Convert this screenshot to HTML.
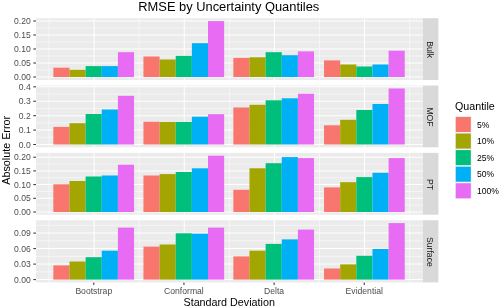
<!DOCTYPE html>
<html><head><meta charset="utf-8"><title>RMSE by Uncertainty Quantiles</title>
<style>html,body{margin:0;padding:0;background:#fff;overflow:hidden}svg{display:block}text{font-family:"Liberation Sans",Arial,Helvetica,sans-serif}</style></head><body>
<svg width="500" height="308" viewBox="0 0 500 308">
<rect width="500" height="308" fill="#fff"/>
<text x="228.8" y="10.5" font-size="12.88" text-anchor="middle" fill="#000">RMSE by Uncertainty Quantiles</text>
<g>
<rect x="36.0" y="18.2" width="386.90" height="61.80" fill="#ebebeb"/>
<line x1="36.0" x2="422.9" y1="70.00" y2="70.00" stroke="#fff" stroke-width="0.52"/>
<line x1="36.0" x2="422.9" y1="56.00" y2="56.00" stroke="#fff" stroke-width="0.52"/>
<line x1="36.0" x2="422.9" y1="42.00" y2="42.00" stroke="#fff" stroke-width="0.52"/>
<line x1="36.0" x2="422.9" y1="28.00" y2="28.00" stroke="#fff" stroke-width="0.52"/>
<line x1="49.02" x2="49.02" y1="18.2" y2="80.0" stroke="#fff" stroke-width="0.52"/>
<line x1="139.18" x2="139.18" y1="18.2" y2="80.0" stroke="#fff" stroke-width="0.52"/>
<line x1="229.33" x2="229.33" y1="18.2" y2="80.0" stroke="#fff" stroke-width="0.52"/>
<line x1="319.48" x2="319.48" y1="18.2" y2="80.0" stroke="#fff" stroke-width="0.52"/>
<line x1="409.63" x2="409.63" y1="18.2" y2="80.0" stroke="#fff" stroke-width="0.52"/>
<line x1="36.0" x2="422.9" y1="77.00" y2="77.00" stroke="#fff" stroke-width="1.03"/>
<line x1="36.0" x2="422.9" y1="63.00" y2="63.00" stroke="#fff" stroke-width="1.03"/>
<line x1="36.0" x2="422.9" y1="49.00" y2="49.00" stroke="#fff" stroke-width="1.03"/>
<line x1="36.0" x2="422.9" y1="35.00" y2="35.00" stroke="#fff" stroke-width="1.03"/>
<line x1="36.0" x2="422.9" y1="21.00" y2="21.00" stroke="#fff" stroke-width="1.03"/>
<line x1="94.10" x2="94.10" y1="18.2" y2="80.0" stroke="#fff" stroke-width="1.03"/>
<line x1="184.25" x2="184.25" y1="18.2" y2="80.0" stroke="#fff" stroke-width="1.03"/>
<line x1="274.40" x2="274.40" y1="18.2" y2="80.0" stroke="#fff" stroke-width="1.03"/>
<line x1="364.55" x2="364.55" y1="18.2" y2="80.0" stroke="#fff" stroke-width="1.03"/>
<rect x="53.35" y="67.70" width="16.14" height="9.30" fill="#F8766D"/>
<rect x="69.49" y="69.80" width="16.14" height="7.20" fill="#A3A500"/>
<rect x="85.63" y="66.10" width="16.14" height="10.90" fill="#00BF7D"/>
<rect x="101.77" y="66.10" width="16.14" height="10.90" fill="#00B0F6"/>
<rect x="117.91" y="52.20" width="16.14" height="24.80" fill="#E76BF3"/>
<rect x="143.45" y="56.50" width="16.14" height="20.50" fill="#F8766D"/>
<rect x="159.59" y="59.50" width="16.14" height="17.50" fill="#A3A500"/>
<rect x="175.73" y="55.90" width="16.14" height="21.10" fill="#00BF7D"/>
<rect x="191.87" y="43.20" width="16.14" height="33.80" fill="#00B0F6"/>
<rect x="208.01" y="21.10" width="16.14" height="55.90" fill="#E76BF3"/>
<rect x="233.35" y="57.90" width="16.14" height="19.10" fill="#F8766D"/>
<rect x="249.49" y="57.30" width="16.14" height="19.70" fill="#A3A500"/>
<rect x="265.63" y="52.20" width="16.14" height="24.80" fill="#00BF7D"/>
<rect x="281.77" y="55.20" width="16.14" height="21.80" fill="#00B0F6"/>
<rect x="297.91" y="51.40" width="16.14" height="25.60" fill="#E76BF3"/>
<rect x="324.05" y="60.40" width="16.14" height="16.60" fill="#F8766D"/>
<rect x="340.19" y="64.50" width="16.14" height="12.50" fill="#A3A500"/>
<rect x="356.33" y="66.50" width="16.14" height="10.50" fill="#00BF7D"/>
<rect x="372.47" y="64.50" width="16.14" height="12.50" fill="#00B0F6"/>
<rect x="388.61" y="50.70" width="16.14" height="26.30" fill="#E76BF3"/>
<line x1="33.30" x2="36.0" y1="77.00" y2="77.00" stroke="#333" stroke-width="1.03"/>
<text x="30.8" y="80.05" font-size="8.6" text-anchor="end" fill="#4d4d4d">0.00</text>
<line x1="33.30" x2="36.0" y1="63.00" y2="63.00" stroke="#333" stroke-width="1.03"/>
<text x="30.8" y="66.05" font-size="8.6" text-anchor="end" fill="#4d4d4d">0.05</text>
<line x1="33.30" x2="36.0" y1="49.00" y2="49.00" stroke="#333" stroke-width="1.03"/>
<text x="30.8" y="52.05" font-size="8.6" text-anchor="end" fill="#4d4d4d">0.10</text>
<line x1="33.30" x2="36.0" y1="35.00" y2="35.00" stroke="#333" stroke-width="1.03"/>
<text x="30.8" y="38.05" font-size="8.6" text-anchor="end" fill="#4d4d4d">0.15</text>
<line x1="33.30" x2="36.0" y1="21.00" y2="21.00" stroke="#333" stroke-width="1.03"/>
<text x="30.8" y="24.05" font-size="8.6" text-anchor="end" fill="#4d4d4d">0.20</text>
<rect x="422.9" y="18.2" width="15.5" height="61.80" fill="#d9d9d9"/>
<text transform="translate(427.2,49.70) rotate(90)" font-size="8.6" text-anchor="middle" fill="#1a1a1a">Bulk</text>
</g>
<g>
<rect x="36.0" y="85.5" width="386.90" height="61.80" fill="#ebebeb"/>
<line x1="36.0" x2="422.9" y1="137.29" y2="137.29" stroke="#fff" stroke-width="0.52"/>
<line x1="36.0" x2="422.9" y1="122.87" y2="122.87" stroke="#fff" stroke-width="0.52"/>
<line x1="36.0" x2="422.9" y1="108.45" y2="108.45" stroke="#fff" stroke-width="0.52"/>
<line x1="36.0" x2="422.9" y1="94.03" y2="94.03" stroke="#fff" stroke-width="0.52"/>
<line x1="49.02" x2="49.02" y1="85.5" y2="147.3" stroke="#fff" stroke-width="0.52"/>
<line x1="139.18" x2="139.18" y1="85.5" y2="147.3" stroke="#fff" stroke-width="0.52"/>
<line x1="229.33" x2="229.33" y1="85.5" y2="147.3" stroke="#fff" stroke-width="0.52"/>
<line x1="319.48" x2="319.48" y1="85.5" y2="147.3" stroke="#fff" stroke-width="0.52"/>
<line x1="409.63" x2="409.63" y1="85.5" y2="147.3" stroke="#fff" stroke-width="0.52"/>
<line x1="36.0" x2="422.9" y1="144.50" y2="144.50" stroke="#fff" stroke-width="1.03"/>
<line x1="36.0" x2="422.9" y1="130.08" y2="130.08" stroke="#fff" stroke-width="1.03"/>
<line x1="36.0" x2="422.9" y1="115.66" y2="115.66" stroke="#fff" stroke-width="1.03"/>
<line x1="36.0" x2="422.9" y1="101.24" y2="101.24" stroke="#fff" stroke-width="1.03"/>
<line x1="36.0" x2="422.9" y1="86.82" y2="86.82" stroke="#fff" stroke-width="1.03"/>
<line x1="94.10" x2="94.10" y1="85.5" y2="147.3" stroke="#fff" stroke-width="1.03"/>
<line x1="184.25" x2="184.25" y1="85.5" y2="147.3" stroke="#fff" stroke-width="1.03"/>
<line x1="274.40" x2="274.40" y1="85.5" y2="147.3" stroke="#fff" stroke-width="1.03"/>
<line x1="364.55" x2="364.55" y1="85.5" y2="147.3" stroke="#fff" stroke-width="1.03"/>
<rect x="53.35" y="126.90" width="16.14" height="17.60" fill="#F8766D"/>
<rect x="69.49" y="123.20" width="16.14" height="21.30" fill="#A3A500"/>
<rect x="85.63" y="114.00" width="16.14" height="30.50" fill="#00BF7D"/>
<rect x="101.77" y="109.50" width="16.14" height="35.00" fill="#00B0F6"/>
<rect x="117.91" y="95.80" width="16.14" height="48.70" fill="#E76BF3"/>
<rect x="143.45" y="121.80" width="16.14" height="22.70" fill="#F8766D"/>
<rect x="159.59" y="122.00" width="16.14" height="22.50" fill="#A3A500"/>
<rect x="175.73" y="122.00" width="16.14" height="22.50" fill="#00BF7D"/>
<rect x="191.87" y="116.70" width="16.14" height="27.80" fill="#00B0F6"/>
<rect x="208.01" y="114.20" width="16.14" height="30.30" fill="#E76BF3"/>
<rect x="233.35" y="107.50" width="16.14" height="37.00" fill="#F8766D"/>
<rect x="249.49" y="104.80" width="16.14" height="39.70" fill="#A3A500"/>
<rect x="265.63" y="100.30" width="16.14" height="44.20" fill="#00BF7D"/>
<rect x="281.77" y="98.30" width="16.14" height="46.20" fill="#00B0F6"/>
<rect x="297.91" y="93.80" width="16.14" height="50.70" fill="#E76BF3"/>
<rect x="324.05" y="125.30" width="16.14" height="19.20" fill="#F8766D"/>
<rect x="340.19" y="119.80" width="16.14" height="24.70" fill="#A3A500"/>
<rect x="356.33" y="110.00" width="16.14" height="34.50" fill="#00BF7D"/>
<rect x="372.47" y="104.00" width="16.14" height="40.50" fill="#00B0F6"/>
<rect x="388.61" y="88.50" width="16.14" height="56.00" fill="#E76BF3"/>
<line x1="33.30" x2="36.0" y1="144.50" y2="144.50" stroke="#333" stroke-width="1.03"/>
<text x="30.8" y="147.55" font-size="8.6" text-anchor="end" fill="#4d4d4d">0.0</text>
<line x1="33.30" x2="36.0" y1="130.08" y2="130.08" stroke="#333" stroke-width="1.03"/>
<text x="30.8" y="133.13" font-size="8.6" text-anchor="end" fill="#4d4d4d">0.1</text>
<line x1="33.30" x2="36.0" y1="115.66" y2="115.66" stroke="#333" stroke-width="1.03"/>
<text x="30.8" y="118.71" font-size="8.6" text-anchor="end" fill="#4d4d4d">0.2</text>
<line x1="33.30" x2="36.0" y1="101.24" y2="101.24" stroke="#333" stroke-width="1.03"/>
<text x="30.8" y="104.29" font-size="8.6" text-anchor="end" fill="#4d4d4d">0.3</text>
<line x1="33.30" x2="36.0" y1="86.82" y2="86.82" stroke="#333" stroke-width="1.03"/>
<text x="30.8" y="89.87" font-size="8.6" text-anchor="end" fill="#4d4d4d">0.4</text>
<rect x="422.9" y="85.5" width="15.5" height="61.80" fill="#d9d9d9"/>
<text transform="translate(427.2,117.00) rotate(90)" font-size="8.6" text-anchor="middle" fill="#1a1a1a">MOF</text>
</g>
<g>
<rect x="36.0" y="152.9" width="386.90" height="61.80" fill="#ebebeb"/>
<line x1="36.0" x2="422.9" y1="205.15" y2="205.15" stroke="#fff" stroke-width="0.52"/>
<line x1="36.0" x2="422.9" y1="191.45" y2="191.45" stroke="#fff" stroke-width="0.52"/>
<line x1="36.0" x2="422.9" y1="177.75" y2="177.75" stroke="#fff" stroke-width="0.52"/>
<line x1="36.0" x2="422.9" y1="164.05" y2="164.05" stroke="#fff" stroke-width="0.52"/>
<line x1="49.02" x2="49.02" y1="152.9" y2="214.7" stroke="#fff" stroke-width="0.52"/>
<line x1="139.18" x2="139.18" y1="152.9" y2="214.7" stroke="#fff" stroke-width="0.52"/>
<line x1="229.33" x2="229.33" y1="152.9" y2="214.7" stroke="#fff" stroke-width="0.52"/>
<line x1="319.48" x2="319.48" y1="152.9" y2="214.7" stroke="#fff" stroke-width="0.52"/>
<line x1="409.63" x2="409.63" y1="152.9" y2="214.7" stroke="#fff" stroke-width="0.52"/>
<line x1="36.0" x2="422.9" y1="212.00" y2="212.00" stroke="#fff" stroke-width="1.03"/>
<line x1="36.0" x2="422.9" y1="198.30" y2="198.30" stroke="#fff" stroke-width="1.03"/>
<line x1="36.0" x2="422.9" y1="184.60" y2="184.60" stroke="#fff" stroke-width="1.03"/>
<line x1="36.0" x2="422.9" y1="170.90" y2="170.90" stroke="#fff" stroke-width="1.03"/>
<line x1="36.0" x2="422.9" y1="157.20" y2="157.20" stroke="#fff" stroke-width="1.03"/>
<line x1="94.10" x2="94.10" y1="152.9" y2="214.7" stroke="#fff" stroke-width="1.03"/>
<line x1="184.25" x2="184.25" y1="152.9" y2="214.7" stroke="#fff" stroke-width="1.03"/>
<line x1="274.40" x2="274.40" y1="152.9" y2="214.7" stroke="#fff" stroke-width="1.03"/>
<line x1="364.55" x2="364.55" y1="152.9" y2="214.7" stroke="#fff" stroke-width="1.03"/>
<rect x="53.35" y="184.30" width="16.14" height="27.70" fill="#F8766D"/>
<rect x="69.49" y="181.00" width="16.14" height="31.00" fill="#A3A500"/>
<rect x="85.63" y="176.50" width="16.14" height="35.50" fill="#00BF7D"/>
<rect x="101.77" y="175.50" width="16.14" height="36.50" fill="#00B0F6"/>
<rect x="117.91" y="164.70" width="16.14" height="47.30" fill="#E76BF3"/>
<rect x="143.45" y="175.50" width="16.14" height="36.50" fill="#F8766D"/>
<rect x="159.59" y="174.10" width="16.14" height="37.90" fill="#A3A500"/>
<rect x="175.73" y="172.00" width="16.14" height="40.00" fill="#00BF7D"/>
<rect x="191.87" y="168.30" width="16.14" height="43.70" fill="#00B0F6"/>
<rect x="208.01" y="155.70" width="16.14" height="56.30" fill="#E76BF3"/>
<rect x="233.35" y="189.80" width="16.14" height="22.20" fill="#F8766D"/>
<rect x="249.49" y="168.30" width="16.14" height="43.70" fill="#A3A500"/>
<rect x="265.63" y="163.20" width="16.14" height="48.80" fill="#00BF7D"/>
<rect x="281.77" y="157.10" width="16.14" height="54.90" fill="#00B0F6"/>
<rect x="297.91" y="158.10" width="16.14" height="53.90" fill="#E76BF3"/>
<rect x="324.05" y="187.40" width="16.14" height="24.60" fill="#F8766D"/>
<rect x="340.19" y="182.20" width="16.14" height="29.80" fill="#A3A500"/>
<rect x="356.33" y="177.10" width="16.14" height="34.90" fill="#00BF7D"/>
<rect x="372.47" y="172.80" width="16.14" height="39.20" fill="#00B0F6"/>
<rect x="388.61" y="158.10" width="16.14" height="53.90" fill="#E76BF3"/>
<line x1="33.30" x2="36.0" y1="212.00" y2="212.00" stroke="#333" stroke-width="1.03"/>
<text x="30.8" y="215.05" font-size="8.6" text-anchor="end" fill="#4d4d4d">0.00</text>
<line x1="33.30" x2="36.0" y1="198.30" y2="198.30" stroke="#333" stroke-width="1.03"/>
<text x="30.8" y="201.35" font-size="8.6" text-anchor="end" fill="#4d4d4d">0.05</text>
<line x1="33.30" x2="36.0" y1="184.60" y2="184.60" stroke="#333" stroke-width="1.03"/>
<text x="30.8" y="187.65" font-size="8.6" text-anchor="end" fill="#4d4d4d">0.10</text>
<line x1="33.30" x2="36.0" y1="170.90" y2="170.90" stroke="#333" stroke-width="1.03"/>
<text x="30.8" y="173.95" font-size="8.6" text-anchor="end" fill="#4d4d4d">0.15</text>
<line x1="33.30" x2="36.0" y1="157.20" y2="157.20" stroke="#333" stroke-width="1.03"/>
<text x="30.8" y="160.25" font-size="8.6" text-anchor="end" fill="#4d4d4d">0.20</text>
<rect x="422.9" y="152.9" width="15.5" height="61.80" fill="#d9d9d9"/>
<text transform="translate(427.2,184.40) rotate(90)" font-size="8.6" text-anchor="middle" fill="#1a1a1a">PT</text>
</g>
<g>
<rect x="36.0" y="220.25" width="386.90" height="62.15" fill="#ebebeb"/>
<line x1="36.0" x2="422.9" y1="271.85" y2="271.85" stroke="#fff" stroke-width="0.52"/>
<line x1="36.0" x2="422.9" y1="256.35" y2="256.35" stroke="#fff" stroke-width="0.52"/>
<line x1="36.0" x2="422.9" y1="240.85" y2="240.85" stroke="#fff" stroke-width="0.52"/>
<line x1="36.0" x2="422.9" y1="225.35" y2="225.35" stroke="#fff" stroke-width="0.52"/>
<line x1="49.02" x2="49.02" y1="220.25" y2="282.4" stroke="#fff" stroke-width="0.52"/>
<line x1="139.18" x2="139.18" y1="220.25" y2="282.4" stroke="#fff" stroke-width="0.52"/>
<line x1="229.33" x2="229.33" y1="220.25" y2="282.4" stroke="#fff" stroke-width="0.52"/>
<line x1="319.48" x2="319.48" y1="220.25" y2="282.4" stroke="#fff" stroke-width="0.52"/>
<line x1="409.63" x2="409.63" y1="220.25" y2="282.4" stroke="#fff" stroke-width="0.52"/>
<line x1="36.0" x2="422.9" y1="279.60" y2="279.60" stroke="#fff" stroke-width="1.03"/>
<line x1="36.0" x2="422.9" y1="264.10" y2="264.10" stroke="#fff" stroke-width="1.03"/>
<line x1="36.0" x2="422.9" y1="248.60" y2="248.60" stroke="#fff" stroke-width="1.03"/>
<line x1="36.0" x2="422.9" y1="233.10" y2="233.10" stroke="#fff" stroke-width="1.03"/>
<line x1="94.10" x2="94.10" y1="220.25" y2="282.4" stroke="#fff" stroke-width="1.03"/>
<line x1="184.25" x2="184.25" y1="220.25" y2="282.4" stroke="#fff" stroke-width="1.03"/>
<line x1="274.40" x2="274.40" y1="220.25" y2="282.4" stroke="#fff" stroke-width="1.03"/>
<line x1="364.55" x2="364.55" y1="220.25" y2="282.4" stroke="#fff" stroke-width="1.03"/>
<rect x="53.35" y="265.40" width="16.14" height="14.20" fill="#F8766D"/>
<rect x="69.49" y="261.50" width="16.14" height="18.10" fill="#A3A500"/>
<rect x="85.63" y="257.20" width="16.14" height="22.40" fill="#00BF7D"/>
<rect x="101.77" y="250.70" width="16.14" height="28.90" fill="#00B0F6"/>
<rect x="117.91" y="227.60" width="16.14" height="52.00" fill="#E76BF3"/>
<rect x="143.45" y="246.60" width="16.14" height="33.00" fill="#F8766D"/>
<rect x="159.59" y="244.50" width="16.14" height="35.10" fill="#A3A500"/>
<rect x="175.73" y="233.30" width="16.14" height="46.30" fill="#00BF7D"/>
<rect x="191.87" y="233.70" width="16.14" height="45.90" fill="#00B0F6"/>
<rect x="208.01" y="227.60" width="16.14" height="52.00" fill="#E76BF3"/>
<rect x="233.35" y="256.40" width="16.14" height="23.20" fill="#F8766D"/>
<rect x="249.49" y="250.70" width="16.14" height="28.90" fill="#A3A500"/>
<rect x="265.63" y="243.90" width="16.14" height="35.70" fill="#00BF7D"/>
<rect x="281.77" y="239.40" width="16.14" height="40.20" fill="#00B0F6"/>
<rect x="297.91" y="229.60" width="16.14" height="50.00" fill="#E76BF3"/>
<rect x="324.05" y="268.50" width="16.14" height="11.10" fill="#F8766D"/>
<rect x="340.19" y="264.40" width="16.14" height="15.20" fill="#A3A500"/>
<rect x="356.33" y="255.80" width="16.14" height="23.80" fill="#00BF7D"/>
<rect x="372.47" y="249.00" width="16.14" height="30.60" fill="#00B0F6"/>
<rect x="388.61" y="223.10" width="16.14" height="56.50" fill="#E76BF3"/>
<line x1="33.30" x2="36.0" y1="279.60" y2="279.60" stroke="#333" stroke-width="1.03"/>
<text x="30.8" y="282.65" font-size="8.6" text-anchor="end" fill="#4d4d4d">0.00</text>
<line x1="33.30" x2="36.0" y1="264.10" y2="264.10" stroke="#333" stroke-width="1.03"/>
<text x="30.8" y="267.15" font-size="8.6" text-anchor="end" fill="#4d4d4d">0.03</text>
<line x1="33.30" x2="36.0" y1="248.60" y2="248.60" stroke="#333" stroke-width="1.03"/>
<text x="30.8" y="251.65" font-size="8.6" text-anchor="end" fill="#4d4d4d">0.06</text>
<line x1="33.30" x2="36.0" y1="233.10" y2="233.10" stroke="#333" stroke-width="1.03"/>
<text x="30.8" y="236.15" font-size="8.6" text-anchor="end" fill="#4d4d4d">0.09</text>
<rect x="422.9" y="220.25" width="15.5" height="62.15" fill="#d9d9d9"/>
<text transform="translate(427.2,251.92) rotate(90)" font-size="8.6" text-anchor="middle" fill="#1a1a1a">Surface</text>
</g>
<line x1="93.80" x2="93.80" y1="282.4" y2="285.10" stroke="#333" stroke-width="1.03"/>
<text x="93.80" y="294.0" font-size="8.6" text-anchor="middle" fill="#4d4d4d">Bootstrap</text>
<line x1="183.95" x2="183.95" y1="282.4" y2="285.10" stroke="#333" stroke-width="1.03"/>
<text x="183.95" y="294.0" font-size="8.6" text-anchor="middle" fill="#4d4d4d">Conformal</text>
<line x1="274.10" x2="274.10" y1="282.4" y2="285.10" stroke="#333" stroke-width="1.03"/>
<text x="274.10" y="294.0" font-size="8.6" text-anchor="middle" fill="#4d4d4d">Delta</text>
<line x1="364.25" x2="364.25" y1="282.4" y2="285.10" stroke="#333" stroke-width="1.03"/>
<text x="364.25" y="294.0" font-size="8.6" text-anchor="middle" fill="#4d4d4d">Evidential</text>
<text x="229.2" y="306.0" font-size="10.76" text-anchor="middle" fill="#000">Standard Deviation</text>
<text transform="translate(9.6,150.3) rotate(-90)" font-size="10.78" text-anchor="middle" fill="#000">Absolute Error</text>
<text x="455.0" y="109.5" font-size="10.7" fill="#000">Quantile</text>
<rect x="455.0" y="116.20" width="16.57" height="16.57" fill="#f2f2f2"/>
<rect x="455.75" y="116.95" width="15.07" height="15.07" fill="#F8766D"/>
<text x="476.9" y="127.53" font-size="8.6" fill="#000">5%</text>
<rect x="455.0" y="132.77" width="16.57" height="16.57" fill="#f2f2f2"/>
<rect x="455.75" y="133.52" width="15.07" height="15.07" fill="#A3A500"/>
<text x="476.9" y="144.11" font-size="8.6" fill="#000">10%</text>
<rect x="455.0" y="149.34" width="16.57" height="16.57" fill="#f2f2f2"/>
<rect x="455.75" y="150.09" width="15.07" height="15.07" fill="#00BF7D"/>
<text x="476.9" y="160.68" font-size="8.6" fill="#000">25%</text>
<rect x="455.0" y="165.91" width="16.57" height="16.57" fill="#f2f2f2"/>
<rect x="455.75" y="166.66" width="15.07" height="15.07" fill="#00B0F6"/>
<text x="476.9" y="177.25" font-size="8.6" fill="#000">50%</text>
<rect x="455.0" y="182.48" width="16.57" height="16.57" fill="#f2f2f2"/>
<rect x="455.75" y="183.23" width="15.07" height="15.07" fill="#E76BF3"/>
<text x="476.9" y="193.82" font-size="8.6" fill="#000">100%</text>
</svg></body></html>
